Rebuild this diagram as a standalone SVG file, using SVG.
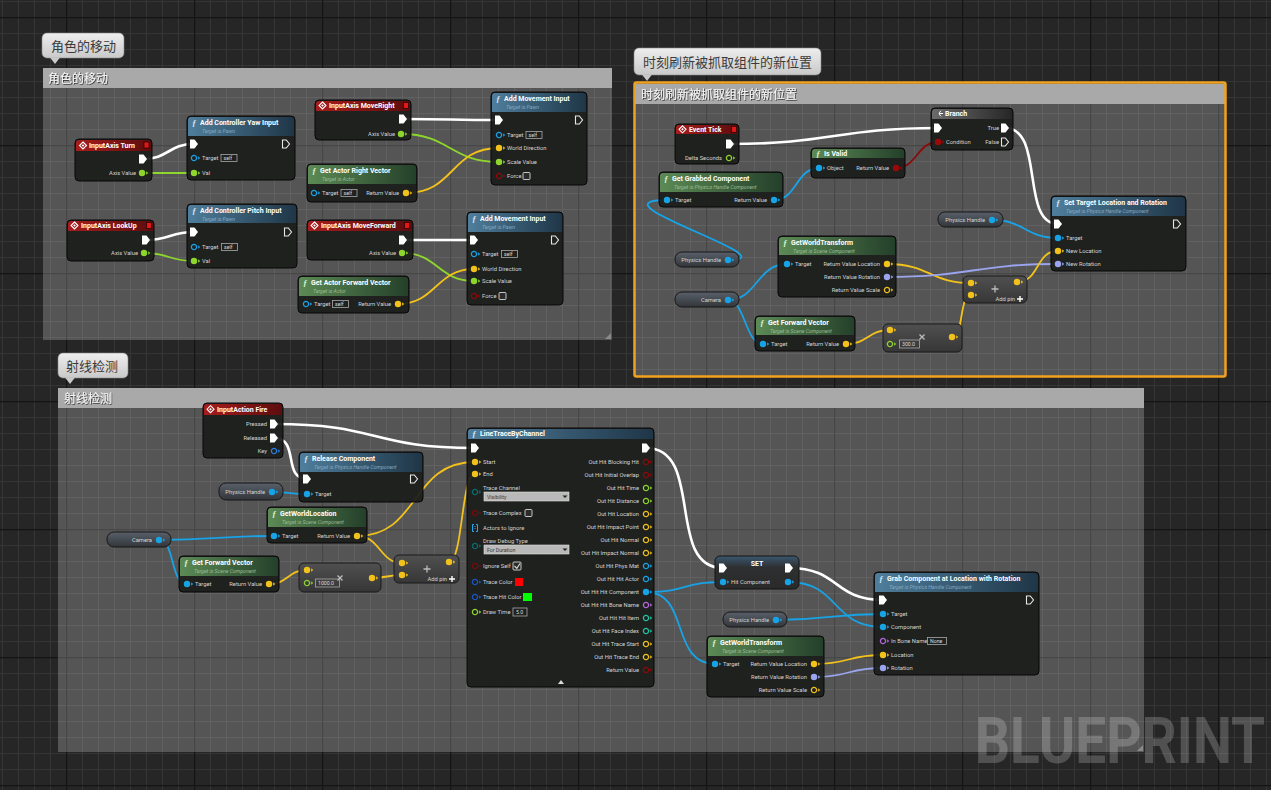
<svg xmlns="http://www.w3.org/2000/svg" width="1271" height="790" viewBox="0 0 1271 790">
<defs>
<style>
text{font-family:Roboto,"Liberation Sans",sans-serif}
.cj{font-family:"Noto Sans CJK SC","Noto Sans",sans-serif}
.t{font-size:7px;font-weight:bold;fill:#fff}
.s{font-size:5.2px;font-style:italic}
.sb{fill:#86a9c2}
.sg{fill:#9bbd95}
.l{font-size:5.8px;fill:#d4d4d4}
.r{text-anchor:end}
.n{fill:#1b1d1b;fill-opacity:.93;stroke:#070707;stroke-width:1}
.v{fill:url(#gPill);stroke:#161616;stroke-width:1}
.m{fill:url(#gMath);stroke:#1a1a1a;stroke-width:1}
.fi{font-size:8.5px;font-style:italic;font-family:"Liberation Serif",serif;font-weight:bold}
.fb{fill:#cfe4f5}
.fg{fill:#d6f0cf}
.bx{fill:none;stroke:#a8a8a8;stroke-width:.8}
.bt{font-size:5.2px;fill:#dcdcdc}
.we{fill:none;stroke:#fff;stroke-width:2.6}
.w{fill:none;stroke-width:1.8}
.wb{stroke:#17a3e6}
.wy{stroke:#f2c21b}
.wg{stroke:#8ed62c}
.wr{stroke:#8c0a0a}
.wl{stroke:#9aa4ef}
.ch{font-size:12px;fill:#f4f4f4;filter:url(#ts)}
.bb{font-size:13px;fill:#3a3a3a}
.ck{fill:#2b2b2b;stroke:#d8d8d8;stroke-width:.9}
.ic{fill:none;stroke:#bcbcbc;stroke-width:1.3}
.dd{fill:#b9b9b9;stroke:#e0e0e0;stroke-width:.6}
.ddt{font-size:5.2px;fill:#3a3a3a}
.cb{fill:#ffffff;fill-opacity:.22}
.chd{fill:#a9a9a9}
.bub{fill:url(#gBub);stroke:#8a8a8a;stroke-width:.6}
</style>
<pattern id="gMinor" width="16" height="16" patternUnits="userSpaceOnUse" x="2" y="1"><path d="M0 0.5H16M0.5 0V16" stroke="#353535" stroke-width="1" fill="none"/></pattern>
<pattern id="gMajor" width="128" height="128" patternUnits="userSpaceOnUse" x="66" y="17"><path d="M0 0.5H128M0.5 0V128" stroke="#141414" stroke-width="1.4" fill="none"/></pattern>
<linearGradient id="gRed" x1="0" y1="0" x2="1" y2="0"><stop offset="0" stop-color="#a81c1c"/><stop offset="1" stop-color="#5c0d0d"/></linearGradient>
<linearGradient id="gBlue" x1="0" y1="0" x2="1" y2="0"><stop offset="0" stop-color="#4f7e9c"/><stop offset="1" stop-color="#1f3647"/></linearGradient>
<linearGradient id="gGreen" x1="0" y1="0" x2="1" y2="0"><stop offset="0" stop-color="#5c8a55"/><stop offset="1" stop-color="#24402a"/></linearGradient>
<linearGradient id="gGray" x1="0" y1="0" x2="1" y2="0"><stop offset="0" stop-color="#6b6b6b"/><stop offset="1" stop-color="#262626"/></linearGradient>
<linearGradient id="gPill" x1="0" y1="0" x2="0" y2="1"><stop offset="0" stop-color="#59606a"/><stop offset=".5" stop-color="#454b52"/><stop offset="1" stop-color="#33363a"/></linearGradient>
<linearGradient id="gMath" x1="0" y1="0" x2="0" y2="1"><stop offset="0" stop-color="#505050"/><stop offset="1" stop-color="#363636"/></linearGradient>
<linearGradient id="gBub" x1="0" y1="0" x2="0" y2="1"><stop offset="0" stop-color="#eeeeee"/><stop offset="1" stop-color="#c9c9c9"/></linearGradient>
<linearGradient id="gSet" x1="0" y1="0" x2="0" y2="1"><stop offset="0" stop-color="#3b5870"/><stop offset=".35" stop-color="#2e2f30"/><stop offset="1" stop-color="#2a2a2a"/></linearGradient>
<filter id="ts" x="-10%" y="-20%" width="120%" height="150%"><feDropShadow dx="0.8" dy="0.8" stdDeviation="0.5" flood-color="#000" flood-opacity="0.75"/></filter>
<path id="exF" d="M-4,-4.5H0.5L4,0L0.5,4.5H-4Z" fill="#fff"/>
<path id="exH" d="M-3.5,-4H0.3L3.5,0L0.3,4H-3.5Z" fill="none" stroke="#e8e8e8" stroke-width="1.1"/>
<g id="dF"><circle r="3.2"/><path d="M4.2,-1.7L6.2,0L4.2,1.7Z"/></g>
<g id="dH"><circle r="2.6" fill="none" stroke="currentColor" stroke-width="1.3"/><path d="M4.2,-1.7L6.2,0L4.2,1.7Z" fill="currentColor"/></g>
<g id="evI"><path d="M0,-3.5L3.5,0L0,3.5L-3.5,0Z" fill="none" stroke="#fff" stroke-width="1.1"/><path d="M0,-1.3L1.3,0L0,1.3L-1.3,0Z" fill="#fff"/></g>
<rect id="evR" x="-2.5" y="-3" width="5" height="6" fill="#e01818" stroke="#300" stroke-width=".8"/>
</defs>

<g id="background">
<rect width="1271" height="790" fill="#262626"/>
<rect width="1271" height="790" fill="url(#gMinor)"/>
<rect width="1271" height="790" fill="url(#gMajor)"/>
</g>

<g id="comment-1">
<rect class="cb" x="43" y="68" width="569" height="272"/>
<rect class="chd" x="43" y="68" width="569" height="20"/>
<text class="cj ch" x="48" y="83">角色的移动</text>
<path d="M605,339L611,333L611,339Z" fill="#8a8a8a"/>
<rect class="bub" x="42" y="33" width="82" height="25" rx="5"/>
<path d="M50,57.5L55,64L60,57.5Z" fill="#c9c9c9"/>
<text class="cj bb" x="51" y="50.5">角色的移动</text>
</g>

<g id="comment-2">
<rect class="cb" x="634" y="82" width="592" height="295"/>
<rect class="chd" x="635" y="84" width="590" height="20"/>
<text class="cj ch" x="641" y="99">时刻刷新被抓取组件的新位置</text>
<rect x="634.5" y="82.5" width="591" height="294" rx="2" fill="none" stroke="#f0a21e" stroke-width="2.5"/>
<rect class="bub" x="634" y="48" width="187" height="27" rx="5"/>
<path d="M642,74.5L647,81L652,74.5Z" fill="#c9c9c9"/>
<text class="cj bb" x="643" y="66.5">时刻刷新被抓取组件的新位置</text>
</g>

<g id="comment-3">
<rect class="cb" x="58" y="388" width="1086" height="364"/>
<rect class="chd" x="58" y="388" width="1086" height="20"/>
<text class="cj ch" x="64" y="403">射线检测</text>
<path d="M1137,751L1143,745L1143,751Z" fill="#8a8a8a"/>
<rect class="bub" x="58" y="353" width="70" height="25" rx="5"/>
<path d="M65,377.5L70,384L75,377.5Z" fill="#c9c9c9"/>
<text class="cj bb" x="66" y="371">射线检测</text>
</g>

<text x="975" y="763" font-family="Roboto,'Liberation Sans',sans-serif" font-weight="bold" font-size="64" fill="#ffffff" fill-opacity="0.2" textLength="290" lengthAdjust="spacingAndGlyphs">BLUEPRINT</text>

<g id="connectors">
<path class="we" d="M143,159C168,159 169,144 194,144"/>
<path class="w wg" d="M142,173L194,173"/>
<path class="we" d="M146,240C170,240 170,232 194,232"/>
<path class="w wg" d="M144,253C170,253 168,261 194,261"/>
<path class="we" d="M403,119C450,119 452,120 499,120"/>
<path class="w wg" d="M401,134C450,134 450,162 499,162"/>
<path class="w wy" d="M406,193C455,193 450,148 499,148"/>
<path class="we" d="M403,240L474,240"/>
<path class="w wg" d="M402,253C438,253 438,281 474,281"/>
<path class="w wy" d="M398,304C436,304 436,269 474,269"/>

<path class="we" d="M730,144C830,144 838,128 938,128"/>
<path class="w wr" d="M896,168C917,168 917,142 938,142"/>
<path class="w wb" d="M774,200C797,200 796,168 819,168"/>
<path class="w wb" d="M728,260C795,260 585,200 667,200"/>
<path class="we" d="M1005,128C1045,128 1020,224 1058,224"/>
<path class="w wb" d="M992,220C1025,220 1025,238 1058,238"/>
<path class="w wb" d="M728,300C757,300 757,264 787,264"/>
<path class="w wb" d="M728,300C745,300 745,344 763,344"/>
<path class="w wy" d="M887,264C930,264 930,283 971,283"/>
<path class="w wl" d="M887,277C970,277 975,264 1058,264"/>
<path class="w wy" d="M846,344C868,344 868,330 890,330"/>
<path class="w wy" d="M952,337C964,337 959,295 971,295"/>
<path class="w wy" d="M1017,282C1040,282 1035,251 1058,251"/>

<path class="we" d="M274,424C380,424 370,448 475,448"/>
<path class="we" d="M274,438C300,438 282,479 307,479"/>
<path class="w wb" d="M272,492C290,492 290,494 307,494"/>
<path class="w wb" d="M159,540C215,540 220,536 274,536"/>
<path class="w wb" d="M159,540C175,540 170,584 187,584"/>
<path class="w wy" d="M357,536C380,536 380,563 402,563"/>
<path class="w wy" d="M357,536C420,536 410,462 475,462"/>
<path class="w wy" d="M269,584C288,584 288,570 307,570"/>
<path class="w wy" d="M372,578C387,578 387,575 402,575"/>
<path class="w wy" d="M449,562C463,562 461,474 475,474"/>
<path class="we" d="M646,448C705,448 665,568 723,568"/>
<path class="w wb" d="M646,592C690,592 680,582 723,582"/>
<path class="w wb" d="M646,592C690,592 670,664 715,664"/>
<path class="we" d="M789,568C840,568 833,600 883,600"/>
<path class="w wb" d="M788,582C840,582 831,627 883,627"/>
<path class="w wb" d="M776,620C830,620 830,614 883,614"/>
<path class="w wy" d="M814,664C850,664 847,655 883,655"/>
<path class="w wl" d="M814,677C850,677 847,668 883,668"/>
</g>

<!-- Section 1 -->
<g id="n-turn">
<rect class="n" x="75" y="139" width="77" height="42" rx="4"/>
<rect x="76" y="140" width="75" height="11" rx="3" fill="url(#gRed)"/>
<rect x="76" y="148" width="75" height="3" fill="url(#gRed)"/>
<use href="#evI" x="83" y="145.5"/>
<text class="t" x="89" y="147.8">InputAxis Turn</text>
<use href="#evR" x="146.5" y="145"/>
<use href="#exF" x="143" y="159"/>
<text class="l r" x="136" y="175">Axis Value</text>
<use href="#dF" x="142" y="173" fill="#8ed62c"/>
</g>

<g id="n-yaw">
<rect class="n" x="187" y="116" width="108" height="64" rx="4"/>
<rect x="188" y="117" width="106" height="19" rx="3" fill="url(#gBlue)"/>
<rect x="188" y="132" width="106" height="4" fill="url(#gBlue)"/>
<text class="fi fb" x="192" y="125.5">ƒ</text>
<text class="t" x="200" y="124.7">Add Controller Yaw Input</text>
<text class="s sb" x="202" y="133">Target is Pawn</text>
<use href="#exF" x="194" y="144"/>
<use href="#exH" x="286" y="144"/>
<use href="#dH" x="194" y="158" color="#17a3e6"/>
<text class="l" x="202" y="160">Target</text>
<rect class="bx" x="221" y="154.5" width="16" height="7"/>
<text class="bt" x="223.5" y="160">self</text>
<use href="#dF" x="194" y="173" fill="#8ed62c"/>
<text class="l" x="202" y="175">Val</text>
</g>

<g id="n-moveright">
<rect class="n" x="315" y="100" width="96" height="40" rx="4"/>
<rect x="316" y="101" width="94" height="10" rx="3" fill="url(#gRed)"/>
<rect x="316" y="108" width="94" height="3" fill="url(#gRed)"/>
<use href="#evI" x="322.5" y="105.5"/>
<text class="t" x="329" y="108">InputAxis MoveRight</text>
<use href="#evR" x="406" y="105.5"/>
<use href="#exF" x="403" y="119"/>
<text class="l r" x="395" y="136">Axis Value</text>
<use href="#dF" x="401" y="134" fill="#8ed62c"/>
</g>

<g id="n-addmove1">
<rect class="n" x="491" y="92" width="96" height="93" rx="4"/>
<rect x="492" y="93" width="94" height="19" rx="3" fill="url(#gBlue)"/>
<rect x="492" y="108" width="94" height="4" fill="url(#gBlue)"/>
<text class="fi fb" x="496" y="101.5">ƒ</text>
<text class="t" x="504" y="100.7">Add Movement Input</text>
<text class="s sb" x="506" y="109">Target is Pawn</text>
<use href="#exF" x="499" y="120"/>
<use href="#exH" x="579" y="120"/>
<use href="#dH" x="499" y="135" color="#17a3e6"/>
<text class="l" x="507" y="137">Target</text>
<rect class="bx" x="526" y="131.5" width="16" height="7"/>
<text class="bt" x="528.5" y="137">self</text>
<use href="#dF" x="499" y="148" fill="#f2c21b"/>
<text class="l" x="507" y="150">World Direction</text>
<use href="#dF" x="499" y="162" fill="#8ed62c"/>
<text class="l" x="507" y="164">Scale Value</text>
<use href="#dH" x="499" y="176" color="#8c0a0a"/>
<text class="l" x="507" y="178">Force</text>
<rect class="ck" x="523" y="172.5" width="7" height="7" rx="1"/>
</g>

<g id="n-rightvec">
<rect class="n" x="307" y="164" width="110" height="38" rx="4"/>
<rect x="308" y="165" width="108" height="19" rx="3" fill="url(#gGreen)"/>
<rect x="308" y="180" width="108" height="4" fill="url(#gGreen)"/>
<text class="fi fg" x="312" y="173.5">ƒ</text>
<text class="t" x="320" y="172.7">Get Actor Right Vector</text>
<text class="s sg" x="322" y="181">Target is Actor</text>
<use href="#dH" x="314" y="193" color="#17a3e6"/>
<text class="l" x="322" y="195">Target</text>
<rect class="bx" x="341" y="189.5" width="16" height="7"/>
<text class="bt" x="343.5" y="195">self</text>
<text class="l r" x="399" y="195">Return Value</text>
<use href="#dF" x="406" y="193" fill="#f2c21b"/>
</g>

<g id="n-lookup">
<rect class="n" x="67" y="220" width="87" height="41" rx="4"/>
<rect x="68" y="221" width="85" height="10" rx="3" fill="url(#gRed)"/>
<rect x="68" y="228" width="85" height="3" fill="url(#gRed)"/>
<use href="#evI" x="74.5" y="225.5"/>
<text class="t" x="81" y="228">InputAxis LookUp</text>
<use href="#evR" x="149" y="225.5"/>
<use href="#exF" x="146" y="240"/>
<text class="l r" x="138" y="255">Axis Value</text>
<use href="#dF" x="144" y="253" fill="#8ed62c"/>
</g>

<g id="n-pitch">
<rect class="n" x="187" y="204" width="110" height="64" rx="4"/>
<rect x="188" y="205" width="108" height="18" rx="3" fill="url(#gBlue)"/>
<rect x="188" y="219" width="108" height="4" fill="url(#gBlue)"/>
<text class="fi fb" x="192" y="213.5">ƒ</text>
<text class="t" x="200" y="212.7">Add Controller Pitch Input</text>
<text class="s sb" x="202" y="221">Target is Pawn</text>
<use href="#exF" x="194" y="232"/>
<use href="#exH" x="288" y="232"/>
<use href="#dH" x="194" y="247" color="#17a3e6"/>
<text class="l" x="202" y="249">Target</text>
<rect class="bx" x="221.5" y="243.5" width="16" height="7"/>
<text class="bt" x="224" y="249">self</text>
<use href="#dF" x="194" y="261" fill="#8ed62c"/>
<text class="l" x="202" y="263">Val</text>
</g>

<g id="n-moveforward">
<rect class="n" x="307" y="220" width="106" height="40" rx="4"/>
<rect x="308" y="221" width="104" height="10" rx="3" fill="url(#gRed)"/>
<rect x="308" y="228" width="104" height="3" fill="url(#gRed)"/>
<use href="#evI" x="314.5" y="225.5"/>
<text class="t" x="321" y="228">InputAxis MoveForward</text>
<use href="#evR" x="407" y="225.5"/>
<use href="#exF" x="403" y="240"/>
<text class="l r" x="396" y="255">Axis Value</text>
<use href="#dF" x="402" y="253" fill="#8ed62c"/>
</g>

<g id="n-addmove2">
<rect class="n" x="467" y="212" width="96" height="93" rx="4"/>
<rect x="468" y="213" width="94" height="19" rx="3" fill="url(#gBlue)"/>
<rect x="468" y="228" width="94" height="4" fill="url(#gBlue)"/>
<text class="fi fb" x="472" y="221.5">ƒ</text>
<text class="t" x="480" y="220.7">Add Movement Input</text>
<text class="s sb" x="482" y="229">Target is Pawn</text>
<use href="#exF" x="474" y="240"/>
<use href="#exH" x="555" y="240"/>
<use href="#dH" x="474" y="254" color="#17a3e6"/>
<text class="l" x="482" y="256">Target</text>
<rect class="bx" x="501.5" y="250.5" width="16" height="7"/>
<text class="bt" x="504" y="256">self</text>
<use href="#dF" x="474" y="269" fill="#f2c21b"/>
<text class="l" x="482" y="271">World Direction</text>
<use href="#dF" x="474" y="281" fill="#8ed62c"/>
<text class="l" x="482" y="283">Scale Value</text>
<use href="#dH" x="474" y="296" color="#8c0a0a"/>
<text class="l" x="482" y="298">Force</text>
<rect class="ck" x="499" y="292.5" width="7" height="7" rx="1"/>
</g>

<g id="n-fwdvec1">
<rect class="n" x="298" y="276" width="111" height="37" rx="4"/>
<rect x="299" y="277" width="109" height="19" rx="3" fill="url(#gGreen)"/>
<rect x="299" y="292" width="109" height="4" fill="url(#gGreen)"/>
<text class="fi fg" x="303" y="285.5">ƒ</text>
<text class="t" x="311" y="284.7">Get Actor Forward Vector</text>
<text class="s sg" x="313" y="293">Target is Actor</text>
<use href="#dH" x="306" y="304" color="#17a3e6"/>
<text class="l" x="314" y="306">Target</text>
<rect class="bx" x="332.5" y="300.5" width="16" height="7"/>
<text class="bt" x="335" y="306">self</text>
<text class="l r" x="391" y="306">Return Value</text>
<use href="#dF" x="398" y="304" fill="#f2c21b"/>
</g>

<!-- Section 2 -->
<g id="n-tick">
<rect class="n" x="675" y="124" width="64" height="40" rx="4"/>
<rect x="676" y="125" width="62" height="9" rx="3" fill="url(#gRed)"/>
<rect x="676" y="131" width="62" height="3" fill="url(#gRed)"/>
<use href="#evI" x="682.5" y="129.3"/>
<text class="t" x="689" y="131.6">Event Tick</text>
<use href="#evR" x="734" y="129.3"/>
<use href="#exF" x="730" y="144"/>
<text class="l r" x="722" y="160">Delta Seconds</text>
<use href="#dH" x="729" y="158" color="#8ed62c"/>
</g>

<g id="n-isvalid">
<rect class="n" x="811" y="148" width="94" height="30" rx="4"/>
<rect x="812" y="149" width="92" height="9" rx="3" fill="url(#gGreen)"/>
<rect x="812" y="155" width="92" height="3" fill="url(#gGreen)"/>
<text class="fi fg" x="816" y="156.5">ƒ</text>
<text class="t" x="824" y="155.6">Is Valid</text>
<use href="#dF" x="819" y="168" fill="#17a3e6"/>
<text class="l" x="827" y="170">Object</text>
<text class="l r" x="889" y="170">Return Value</text>
<use href="#dF" x="896" y="168" fill="#9a0a0a"/>
</g>

<g id="n-grabbed">
<rect class="n" x="659" y="172" width="124" height="35" rx="4"/>
<rect x="660" y="173" width="122" height="19" rx="3" fill="url(#gGreen)"/>
<rect x="660" y="188" width="122" height="4" fill="url(#gGreen)"/>
<text class="fi fg" x="664" y="181.5">ƒ</text>
<text class="t" x="672" y="180.7">Get Grabbed Component</text>
<text class="s sg" x="674" y="189">Target is Physics Handle Component</text>
<use href="#dF" x="667" y="200" fill="#17a3e6"/>
<text class="l" x="675" y="202">Target</text>
<text class="l r" x="767" y="202">Return Value</text>
<use href="#dF" x="774" y="200" fill="#17a3e6"/>
</g>

<g id="n-branch">
<rect class="n" x="931" y="108" width="82" height="42" rx="4"/>
<rect x="932" y="109" width="80" height="10" rx="3" fill="url(#gGray)"/>
<rect x="932" y="116" width="80" height="3" fill="url(#gGray)"/>
<path d="M941,110.8Q937.5,113.5 941,116.3M939.3,113.5H943" fill="none" stroke="#fff" stroke-width="1"/>
<text class="t" x="945" y="116">Branch</text>
<use href="#exF" x="938" y="128"/>
<text class="l r" x="999" y="130">True</text>
<use href="#exF" x="1005" y="128"/>
<use href="#dF" x="938" y="142" fill="#9a0a0a"/>
<text class="l" x="946" y="144">Condition</text>
<text class="l r" x="999" y="144">False</text>
<use href="#exH" x="1005" y="142"/>
</g>

<g id="n-physhandle1">
<rect class="v" x="938" y="212" width="65" height="15" rx="7"/>
<text class="l r" x="985" y="222">Physics Handle</text>
<use href="#dF" x="992" y="220" fill="#17a3e6"/>
</g>

<g id="n-settarget">
<rect class="n" x="1051" y="196" width="135" height="75" rx="4"/>
<rect x="1052" y="197" width="133" height="19" rx="3" fill="url(#gBlue)"/>
<rect x="1052" y="212" width="133" height="4" fill="url(#gBlue)"/>
<text class="fi fb" x="1056" y="205.5">ƒ</text>
<text class="t" x="1064" y="204.7">Set Target Location and Rotation</text>
<text class="s sb" x="1066" y="213">Target is Physics Handle Component</text>
<use href="#exF" x="1058" y="224"/>
<use href="#exH" x="1177" y="224"/>
<use href="#dF" x="1058" y="238" fill="#17a3e6"/>
<text class="l" x="1066" y="240">Target</text>
<use href="#dF" x="1058" y="251" fill="#f2c21b"/>
<text class="l" x="1066" y="253">New Location</text>
<use href="#dF" x="1058" y="264" fill="#9aa4ef"/>
<text class="l" x="1066" y="266">New Rotation</text>
</g>

<g id="n-physhandle2">
<rect class="v" x="675" y="252" width="64" height="15" rx="7"/>
<text class="l r" x="721" y="262">Physics Handle</text>
<use href="#dF" x="728" y="260" fill="#17a3e6"/>
</g>

<g id="n-camera1">
<rect class="v" x="675" y="292" width="64" height="15" rx="7"/>
<text class="l r" x="721" y="302">Camera</text>
<use href="#dF" x="728" y="300" fill="#17a3e6"/>
</g>

<g id="n-gwt1">
<rect class="n" x="778" y="236" width="118" height="61" rx="4"/>
<rect x="779" y="237" width="116" height="18" rx="3" fill="url(#gGreen)"/>
<rect x="779" y="251" width="116" height="4" fill="url(#gGreen)"/>
<text class="fi fg" x="783" y="245.5">ƒ</text>
<text class="t" x="791" y="244.7">GetWorldTransform</text>
<text class="s sg" x="793" y="253">Target is Scene Component</text>
<use href="#dF" x="787" y="264" fill="#17a3e6"/>
<text class="l" x="795" y="266">Target</text>
<text class="l r" x="880" y="266">Return Value Location</text>
<use href="#dF" x="887" y="264" fill="#f2c21b"/>
<text class="l r" x="880" y="279">Return Value Rotation</text>
<use href="#dF" x="887" y="277" fill="#9aa4ef"/>
<text class="l r" x="880" y="292">Return Value Scale</text>
<use href="#dH" x="887" y="290" color="#f2c21b"/>
</g>

<g id="n-fwdvec2">
<rect class="n" x="755" y="316" width="100" height="35" rx="4"/>
<rect x="756" y="317" width="98" height="18" rx="3" fill="url(#gGreen)"/>
<rect x="756" y="331" width="98" height="4" fill="url(#gGreen)"/>
<text class="fi fg" x="760" y="325.5">ƒ</text>
<text class="t" x="768" y="324.7">Get Forward Vector</text>
<text class="s sg" x="770" y="333">Target is Scene Component</text>
<use href="#dF" x="763" y="344" fill="#17a3e6"/>
<text class="l" x="771" y="346">Target</text>
<text class="l r" x="839" y="346">Return Value</text>
<use href="#dF" x="846" y="344" fill="#f2c21b"/>
</g>

<g id="n-mul1">
<rect class="m" x="883" y="324" width="79" height="28" rx="5"/>
<use href="#dF" x="890" y="330" fill="#f2c21b"/>
<use href="#dH" x="890" y="344" color="#8ed62c"/>
<rect class="bx" x="899.5" y="340" width="20" height="8"/>
<text class="bt" x="902" y="346">300.0</text>
<path class="ic" d="M919.5,334.5L924.5,339.5M924.5,334.5L919.5,339.5"/>
<use href="#dF" x="952" y="337" fill="#f2c21b"/>
</g>

<g id="n-add1">
<rect class="m" x="963" y="276" width="64" height="27" rx="5"/>
<use href="#dF" x="971" y="283" fill="#f2c21b"/>
<use href="#dF" x="971" y="295" fill="#f2c21b"/>
<path class="ic" d="M991.5,289H998.5M995,285.5V292.5"/>
<text class="l r" x="1015" y="301">Add pin</text>
<path d="M1017,299H1023M1020,296V302" stroke="#fff" stroke-width="1.4"/>
<use href="#dF" x="1017" y="282" fill="#f2c21b"/>
</g>

<!-- Section 3 -->
<g id="n-fire">
<rect class="n" x="203" y="403" width="80" height="55" rx="4"/>
<rect x="204" y="404" width="78" height="11" rx="3" fill="url(#gRed)"/>
<rect x="204" y="412" width="78" height="3" fill="url(#gRed)"/>
<use href="#evI" x="210.5" y="409.2"/>
<text class="t" x="217" y="411.5">InputAction Fire</text>
<text class="l r" x="267" y="426">Pressed</text>
<use href="#exF" x="274" y="424"/>
<text class="l r" x="267" y="440">Released</text>
<use href="#exF" x="274" y="438"/>
<text class="l r" x="267" y="453">Key</text>
<use href="#dH" x="274" y="451" color="#2a7ee0"/>
</g>

<g id="n-release">
<rect class="n" x="299" y="452" width="124" height="50" rx="4"/>
<rect x="300" y="453" width="122" height="19" rx="3" fill="url(#gBlue)"/>
<rect x="300" y="468" width="122" height="4" fill="url(#gBlue)"/>
<text class="fi fb" x="304" y="461.5">ƒ</text>
<text class="t" x="312" y="460.7">Release Component</text>
<text class="s sb" x="314" y="469">Target is Physics Handle Component</text>
<use href="#exF" x="307" y="479"/>
<use href="#exH" x="414" y="479"/>
<use href="#dF" x="307" y="494" fill="#17a3e6"/>
<text class="l" x="315" y="496">Target</text>
</g>

<g id="n-physhandle3">
<rect class="v" x="219" y="483" width="64" height="17" rx="7"/>
<text class="l r" x="265" y="494">Physics Handle</text>
<use href="#dF" x="272" y="492" fill="#17a3e6"/>
</g>

<g id="n-camera2">
<rect class="v" x="107" y="532" width="64" height="15" rx="7"/>
<text class="l r" x="152" y="542">Camera</text>
<use href="#dF" x="159" y="540" fill="#17a3e6"/>
</g>

<g id="n-gwl">
<rect class="n" x="267" y="507" width="100" height="36" rx="4"/>
<rect x="268" y="508" width="98" height="19" rx="3" fill="url(#gGreen)"/>
<rect x="268" y="523" width="98" height="4" fill="url(#gGreen)"/>
<text class="fi fg" x="272" y="516.5">ƒ</text>
<text class="t" x="280" y="515.7">GetWorldLocation</text>
<text class="s sg" x="282" y="524">Target is Scene Component</text>
<use href="#dF" x="274" y="536" fill="#17a3e6"/>
<text class="l" x="282" y="538">Target</text>
<text class="l r" x="350" y="538">Return Value</text>
<use href="#dF" x="357" y="536" fill="#f2c21b"/>
</g>

<g id="n-fwdvec3">
<rect class="n" x="179" y="556" width="100" height="36" rx="4"/>
<rect x="180" y="557" width="98" height="19" rx="3" fill="url(#gGreen)"/>
<rect x="180" y="572" width="98" height="4" fill="url(#gGreen)"/>
<text class="fi fg" x="184" y="565.5">ƒ</text>
<text class="t" x="192" y="564.7">Get Forward Vector</text>
<text class="s sg" x="194" y="573">Target is Scene Component</text>
<use href="#dF" x="187" y="584" fill="#17a3e6"/>
<text class="l" x="195" y="586">Target</text>
<text class="l r" x="262" y="586">Return Value</text>
<use href="#dF" x="269" y="584" fill="#f2c21b"/>
</g>

<g id="n-mul2">
<rect class="m" x="299" y="563" width="82" height="29" rx="5"/>
<use href="#dF" x="307" y="570" fill="#f2c21b"/>
<use href="#dH" x="307" y="583" color="#8ed62c"/>
<rect class="bx" x="315.5" y="579" width="24" height="8"/>
<text class="bt" x="318" y="585">1000.0</text>
<path class="ic" d="M337.5,575.5L342.5,580.5M342.5,575.5L337.5,580.5"/>
<use href="#dF" x="372" y="578" fill="#f2c21b"/>
</g>

<g id="n-add2">
<rect class="m" x="394" y="555" width="65" height="28" rx="5"/>
<use href="#dF" x="402" y="563" fill="#f2c21b"/>
<use href="#dF" x="402" y="575" fill="#f2c21b"/>
<path class="ic" d="M423.5,569H430.5M427,565.5V572.5"/>
<text class="l r" x="447" y="581">Add pin</text>
<path d="M449,579H455M452,576V582" stroke="#fff" stroke-width="1.4"/>
<use href="#dF" x="449" y="562" fill="#f2c21b"/>
</g>

<g id="n-linetrace">
<rect class="n" x="467" y="428" width="187" height="259" rx="4"/>
<rect x="468" y="429" width="185" height="10" rx="3" fill="url(#gBlue)"/>
<rect x="468" y="436" width="185" height="3" fill="url(#gBlue)"/>
<text class="fi fb" x="472" y="437">ƒ</text>
<text class="t" x="480" y="436.3">LineTraceByChannel</text>
<use href="#exF" x="475" y="448"/>
<use href="#exF" x="646" y="448"/>
<use href="#dF" x="475" y="462" fill="#f2c21b"/>
<text class="l" x="483" y="464">Start</text>
<use href="#dF" x="475" y="474" fill="#f2c21b"/>
<text class="l" x="483" y="476">End</text>
<text class="l" x="483" y="489.5">Trace Channel</text>
<use href="#dH" x="475" y="492" color="#0a6c6c"/>
<rect class="dd" x="484" y="492" width="85" height="9"/>
<text class="ddt" x="487" y="498.5">Visibility</text>
<path d="M562.5,495.5H567.5L565,498Z" fill="#222"/>
<use href="#dH" x="475" y="513" color="#7a0a0a"/>
<text class="l" x="483" y="515">Trace Complex</text>
<rect class="ck" x="525" y="509.5" width="7" height="7" rx="1"/>
<g fill="none" stroke="#2aa8ef" stroke-width="1"><path d="M474,524.5H472.5V531.5H474M476,524.5H477.5V531.5H476"/><path d="M475,526V530" stroke-dasharray="1,1"/></g>
<text class="l" x="483" y="530">Actors to Ignore</text>
<text class="l" x="483" y="542.5">Draw Debug Type</text>
<use href="#dH" x="475" y="546" color="#0a6c6c"/>
<rect class="dd" x="484" y="545" width="85" height="9"/>
<text class="ddt" x="487" y="551.5">For Duration</text>
<path d="M562.5,548.5H567.5L565,551Z" fill="#222"/>
<use href="#dH" x="475" y="566" color="#7a0a0a"/>
<text class="l" x="483" y="568">Ignore Self</text>
<rect class="ck" x="513" y="562" width="8" height="8" rx="1"/>
<path d="M514.5,566L516.8,568.3L520,563.5" fill="none" stroke="#e0e0e0" stroke-width="1.1"/>
<use href="#dH" x="475" y="582" color="#1a56c8"/>
<text class="l" x="483" y="584">Trace Color</text>
<rect x="515" y="578" width="8" height="8" fill="#ff0000"/>
<use href="#dH" x="475" y="597" color="#1a56c8"/>
<text class="l" x="483" y="599">Trace Hit Color</text>
<rect x="523" y="593" width="9" height="8" fill="#00ff00"/>
<use href="#dH" x="475" y="612" color="#8ed62c"/>
<text class="l" x="483" y="614">Draw Time</text>
<rect class="bx" x="513" y="608" width="14" height="8"/>
<text class="bt" x="516" y="614">5.0</text>
<text class="l r" x="639" y="464">Out Hit Blocking Hit</text>
<use href="#dH" x="646" y="462" color="#8c0a0a"/>
<text class="l r" x="639" y="477">Out Hit Initial Overlap</text>
<use href="#dH" x="646" y="475" color="#8c0a0a"/>
<text class="l r" x="639" y="490">Out Hit Time</text>
<use href="#dH" x="646" y="488" color="#8ed62c"/>
<text class="l r" x="639" y="503">Out Hit Distance</text>
<use href="#dH" x="646" y="501" color="#8ed62c"/>
<text class="l r" x="639" y="516">Out Hit Location</text>
<use href="#dH" x="646" y="514" color="#f2c21b"/>
<text class="l r" x="639" y="529">Out Hit Impact Point</text>
<use href="#dH" x="646" y="527" color="#f2c21b"/>
<text class="l r" x="639" y="542">Out Hit Normal</text>
<use href="#dH" x="646" y="540" color="#f2c21b"/>
<text class="l r" x="639" y="555">Out Hit Impact Normal</text>
<use href="#dH" x="646" y="553" color="#f2c21b"/>
<text class="l r" x="639" y="568">Out Hit Phys Mat</text>
<use href="#dH" x="646" y="566" color="#17a3e6"/>
<text class="l r" x="639" y="581">Out Hit Hit Actor</text>
<use href="#dH" x="646" y="579" color="#17a3e6"/>
<text class="l r" x="639" y="594">Out Hit Hit Component</text>
<use href="#dF" x="646" y="592" fill="#17a3e6"/>
<text class="l r" x="639" y="607">Out Hit Hit Bone Name</text>
<use href="#dH" x="646" y="605" color="#b468e0"/>
<text class="l r" x="639" y="620">Out Hit Hit Item</text>
<use href="#dH" x="646" y="618" color="#1fc4a2"/>
<text class="l r" x="639" y="633">Out Hit Face Index</text>
<use href="#dH" x="646" y="631" color="#1fc4a2"/>
<text class="l r" x="639" y="646">Out Hit Trace Start</text>
<use href="#dH" x="646" y="644" color="#f2c21b"/>
<text class="l r" x="639" y="659">Out Hit Trace End</text>
<use href="#dH" x="646" y="657" color="#f2c21b"/>
<text class="l r" x="639" y="672">Return Value</text>
<use href="#dH" x="646" y="670" color="#8c0a0a"/>
<path d="M558,684L561,680L564,684Z" fill="#dddddd"/>
</g>

<g id="n-set">
<rect x="715" y="556" width="84" height="33" rx="5" fill="url(#gSet)" stroke="#151515"/>
<text class="t" x="757" y="565.5" text-anchor="middle">SET</text>
<use href="#exF" x="723" y="568"/>
<use href="#exF" x="789" y="568"/>
<use href="#dF" x="723" y="582" fill="#17a3e6"/>
<text class="l" x="731" y="584">Hit Component</text>
<use href="#dF" x="788" y="582" fill="#17a3e6"/>
</g>

<g id="n-physhandle4">
<rect class="v" x="723" y="612" width="64" height="15" rx="7"/>
<text class="l r" x="769" y="622">Physics Handle</text>
<use href="#dF" x="776" y="620" fill="#17a3e6"/>
</g>

<g id="n-gwt2">
<rect class="n" x="707" y="636" width="117" height="61" rx="4"/>
<rect x="708" y="637" width="115" height="19" rx="3" fill="url(#gGreen)"/>
<rect x="708" y="652" width="115" height="4" fill="url(#gGreen)"/>
<text class="fi fg" x="712" y="645.5">ƒ</text>
<text class="t" x="720" y="644.7">GetWorldTransform</text>
<text class="s sg" x="722" y="653">Target is Scene Component</text>
<use href="#dF" x="715" y="664" fill="#17a3e6"/>
<text class="l" x="723" y="666">Target</text>
<text class="l r" x="807" y="666">Return Value Location</text>
<use href="#dF" x="814" y="664" fill="#f2c21b"/>
<text class="l r" x="807" y="679">Return Value Rotation</text>
<use href="#dF" x="814" y="677" fill="#9aa4ef"/>
<text class="l r" x="807" y="692">Return Value Scale</text>
<use href="#dH" x="814" y="690" color="#f2c21b"/>
</g>

<g id="n-grab">
<rect class="n" x="874" y="572" width="165" height="103" rx="4"/>
<rect x="875" y="573" width="163" height="19" rx="3" fill="url(#gBlue)"/>
<rect x="875" y="588" width="163" height="4" fill="url(#gBlue)"/>
<text class="fi fb" x="879" y="581.5">ƒ</text>
<text class="t" x="887" y="580.7">Grab Component at Location with Rotation</text>
<text class="s sb" x="889" y="589">Target is Physics Handle Component</text>
<use href="#exF" x="883" y="600"/>
<use href="#exH" x="1030" y="600"/>
<use href="#dF" x="883" y="614" fill="#17a3e6"/>
<text class="l" x="891" y="616">Target</text>
<use href="#dF" x="883" y="627" fill="#17a3e6"/>
<text class="l" x="891" y="629">Component</text>
<use href="#dH" x="883" y="641" color="#b468e0"/>
<text class="l" x="891" y="643">In Bone Name</text>
<rect class="bx" x="927.5" y="637.5" width="19" height="7"/>
<text class="bt" x="930" y="643">None</text>
<use href="#dF" x="883" y="655" fill="#f2c21b"/>
<text class="l" x="891" y="657">Location</text>
<use href="#dF" x="883" y="668" fill="#9aa4ef"/>
<text class="l" x="891" y="670">Rotation</text>
</g>
</svg>
